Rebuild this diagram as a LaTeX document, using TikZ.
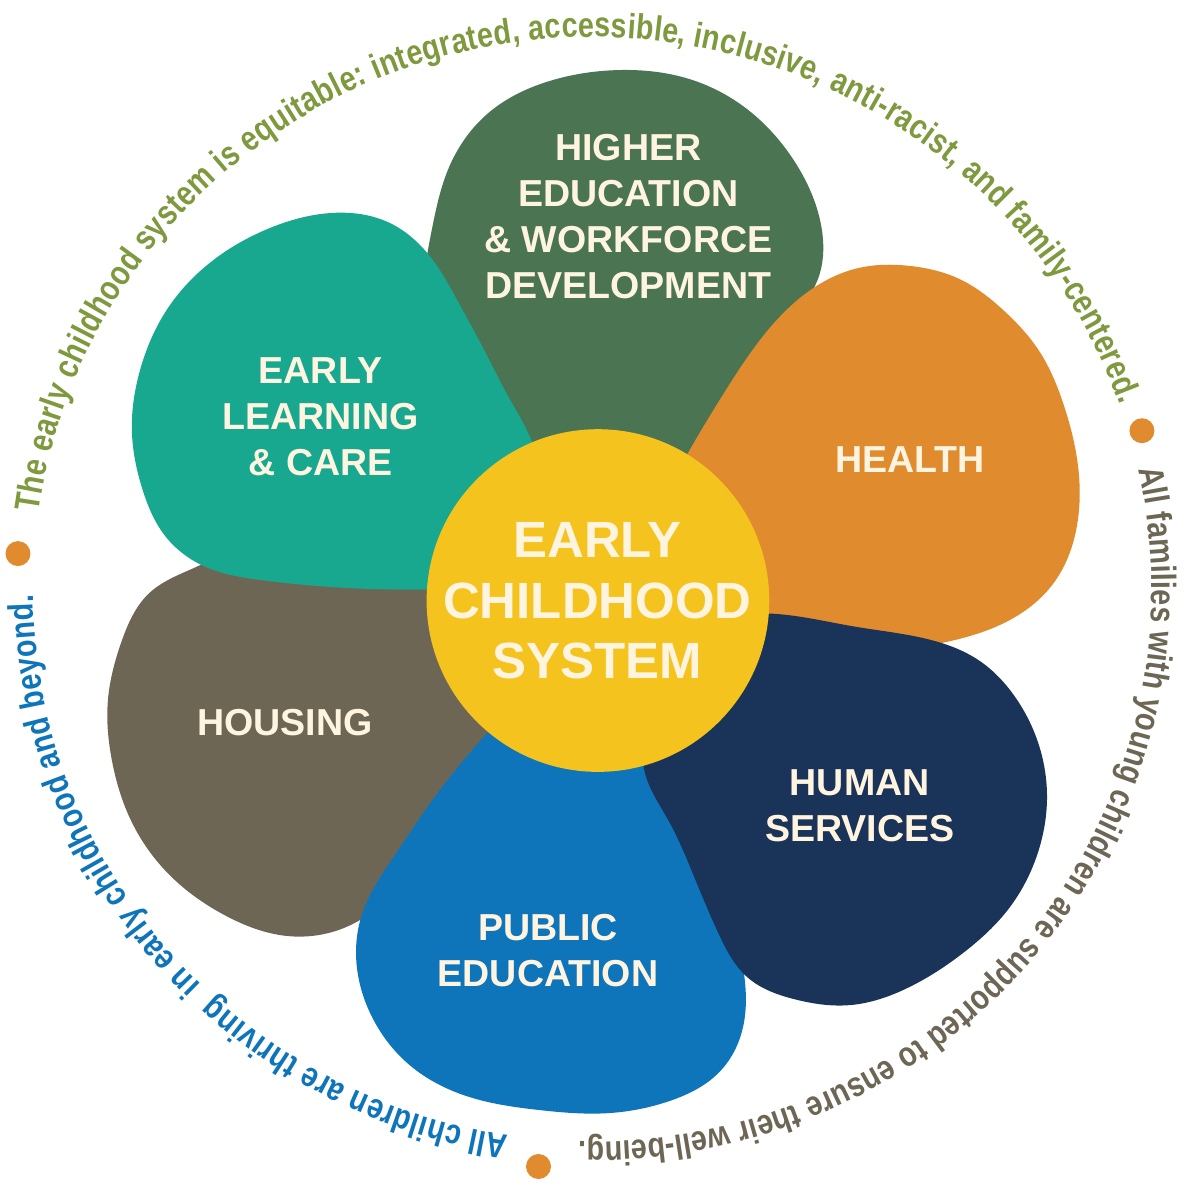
\documentclass[tikz,border=0pt]{standalone}
\usepackage{fontspec}
\setmainfont{Liberation Sans}
\newfontfamily\ringfont[FakeStretch=0.82]{Liberation Sans Bold}
\usetikzlibrary{decorations.text,hobby}
\definecolor{cgreen}{RGB}{75,116,83}
\definecolor{cteal}{RGB}{23,168,143}
\definecolor{corange}{RGB}{224,139,45}
\definecolor{cnavy}{RGB}{26,51,88}
\definecolor{cblue}{RGB}{14,117,187}
\definecolor{cbrown}{RGB}{110,102,85}
\definecolor{cyellow}{RGB}{245,195,29}
\definecolor{ccream}{RGB}{255,244,223}
\definecolor{colive}{RGB}{126,153,62}
\tikzset{
  petal label/.style={font=\bfseries\fontsize{18.8}{23}\selectfont, text=ccream, align=center, inner sep=0pt},
  center label/.style={font=\bfseries\fontsize{25.5}{30.25}\selectfont, text=ccream, align=center, inner sep=0pt},
  petal/.style={use Hobby shortcut, closed=true},
  ring text/.style={decorate, decoration={text along path, text align={fit to path}, text color=#1}},
  ring dot/.style={fill=corange}
}
\newcommand\rf{\ringfont\fontsize{17.5}{21}\selectfont}
\begin{document}
\begin{tikzpicture}[x=0.5pt,y=0.5pt]
\begin{scope}[shift={(0,1187)}, yscale=-1]
  \useasboundingbox (0,0) rectangle (1187,1187);
  \fill[white] (0,0) rectangle (1187,1187);
  % petals (back to front)
  \fill[cgreen, petal] (425,300) .. (432,230) .. (450,165) .. (490,111) .. (550,80) .. (620,69) .. (690,78) .. (745,106) .. (795,160) .. (822,225) .. (818,280) .. (790,322) .. (730,420) .. (650,500) .. (560,500) .. (480,420);
  \fill[corange, petal] (665,520) .. (690,450) .. (723,395) .. (764,335) .. (810,290) .. (860,267) .. (910,265) .. (960,278) .. (1005,310) .. (1040,350) .. (1065,405) .. (1079,465) .. (1078,525) .. (1055,582) .. (1008,621) .. (945,642) .. (880,650) .. (800,640) .. (730,620);
  \fill[cbrown, petal] (420,550) .. (300,540) .. (240,548) .. (195,567) .. (150,592) .. (122,640) .. (108,700) .. (112,760) .. (132,822) .. (170,875) .. (225,915) .. (290,936) .. (360,920) .. (405,878) .. (460,800) .. (520,720) .. (480,620);
  \fill[cteal, petal] (560,560) .. (490,588) .. (420,589) .. (340,587) .. (265,580) .. (205,566) .. (165,535) .. (143,490) .. (132,430) .. (140,370) .. (165,312) .. (210,262) .. (268,228) .. (333,212) .. (390,222) .. (430,255) .. (458,300) .. (485,350) .. (510,398) .. (532,440) .. (550,500);
  \fill[cblue, petal] (540,690) .. (488,732) .. (440,790) .. (395,855) .. (362,915) .. (357,965) .. (374,1020) .. (410,1065) .. (470,1097) .. (540,1110) .. (610,1113) .. (670,1101) .. (720,1072) .. (743,1030) .. (746,985) .. (735,930) .. (710,850) .. (680,770) .. (620,700);
  \fill[cnavy, petal] (655,705) .. (644,765) .. (669,820) .. (695,877) .. (720,935) .. (748,977) .. (795,999) .. (850,1005) .. (910,987) .. (965,952) .. (1010,908) .. (1038,855) .. (1048,795) .. (1040,745) .. (1015,695) .. (980,660) .. (930,639) .. (855,626) .. (770,613) .. (700,630);
  \fill[cyellow] (598.5,600) circle[radius=171.5];
  % labels
  \node[petal label] (higher) at (629,215.5) {HIGHER\\EDUCATION\\\& WORKFORCE\\DEVELOPMENT};
  \node[petal label] (elc) at (321,416.5) {EARLY\\LEARNING\\\& CARE};
  \node[petal label] (health) at (911,459) {HEALTH};
  \node[petal label] (human) at (860.5,805.5) {HUMAN\\SERVICES};
  \node[petal label] (public) at (548.5,950.5) {PUBLIC\\EDUCATION};
  \node[petal label] (housing) at (285,722) {HOUSING};
  \node[center label] (ecs) at (598,600.5) {EARLY\\CHILDHOOD\\SYSTEM};
  % separator dots
  \fill[ring dot] (18,553) circle[radius=12.5];
  \fill[ring dot] (1143,430) circle[radius=12.5];
  \fill[ring dot] (539,1166.5) circle[radius=12.5];
\end{scope}
\begin{scope}[shift={(593,598)}]
  \path[ring text=colive, decoration={text={|\rf|The early childhood system is equitable: integrated, accessible, inclusive, anti-racist, and family-centered.{\hbox{}}}}]
    (172:560 and 553) arc[start angle=172, end angle=19.5, x radius=560, y radius=553];
  \path[ring text=cbrown, decoration={text={|\rf|All families with young children are supported to ensure their well-being.{\hbox{}}}}]
    (12.6:560 and 553) arc[start angle=12.6, end angle=-91.4, x radius=560, y radius=553];
  \path[ring text=cblue, decoration={text={|\rf|All children are thriving{\ } in early childhood and beyond.{\hbox{}}}}]
    (-98.6:560 and 553) arc[start angle=-98.6, end angle=-179.4, x radius=560, y radius=553];
\end{scope}
\end{tikzpicture}
\end{document}
